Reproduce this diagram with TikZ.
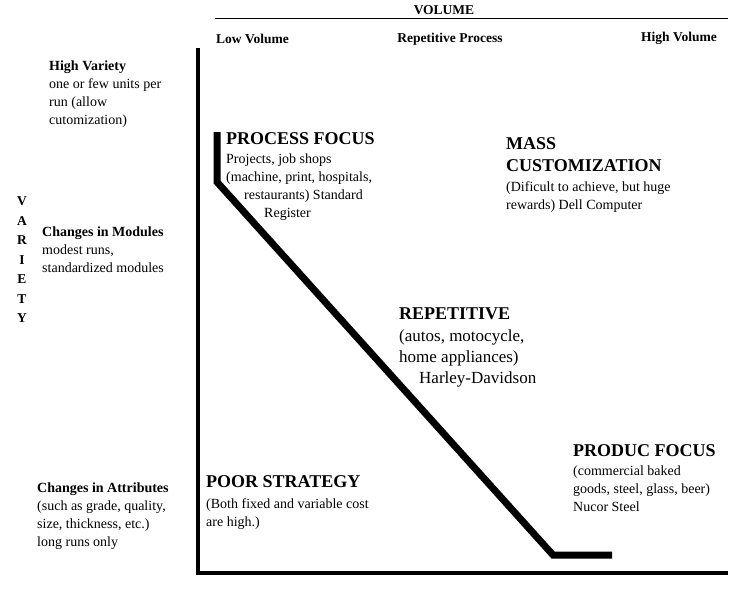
\documentclass[tikz,border=0pt]{standalone}
\usepackage{fontspec}
\setmainfont{Liberation Serif}
\usetikzlibrary{positioning}
\tikzset{
  txt/.style={anchor=north west,align=left,inner sep=0pt,font=\fontsize{14}{18}\selectfont},
  head/.style={anchor=north west,align=left,inner sep=0pt,font=\fontsize{18}{22}\selectfont\bfseries},
  lab/.style={inner sep=0pt,font=\fontsize{13.5}{16}\selectfont\bfseries}
}
\begin{document}
\begin{tikzpicture}[x=1pt,y=-1pt]
\useasboundingbox (0,0) rectangle (732,590);
% header
\draw (215,18)--(728,18);
\node[lab] (vol) at (444,10) {VOLUME};
\node[lab,anchor=west] (low) at (216,39) {Low Volume};
\node[lab] (rep) at (450,39) {Repetitive Process};
\node[lab,anchor=east] (high) at (717,38) {High Volume};
% axes
\draw[line width=4] (198,48)--(198,573)--(728,573);
% process line
\draw[line width=7] (217,132)--(217,182)--(553,555)--(612,555);
% variety
\node[lab,align=center,font=\fontsize{13.5}{19.5}\selectfont\bfseries] (var) at (22,260) {V\\A\\R\\I\\E\\T\\Y};
% left labels
\node[txt] (hv) at (49,61) {\textbf{High Variety}\\one or few units per\\run (allow\\cutomization)};
\node[txt] (cm) at (42,227) {\textbf{Changes in Modules}\\modest runs,\\standardized modules};
\node[txt] (ca) at (37,483) {\textbf{Changes in Attributes}\\(such as grade, quality,\\size, thickness, etc.)\\long runs only};
% quadrants
\node[head] (pf) at (226,132) {PROCESS FOCUS};
\node[txt] (pft) at (226,154) {Projects, job shops\\(machine, print, hospitals,\\\hspace*{18pt}restaurants) Standard\\\hspace*{38pt}Register};
\node[head] (mc) at (506,137) {MASS\\CUSTOMIZATION};
\node[txt] (mct) at (506,181) {(Dificult to achieve, but huge\\rewards) Dell Computer};
\node[head] (rp) at (399,308) {REPETITIVE};
\node[txt,font=\fontsize{17}{21}\selectfont] (rpt) at (399,329) {(autos, motocycle,\\home appliances)\\\hspace*{20pt}Harley-Davidson};
\node[head] (pr) at (573,444) {PRODUC FOCUS};
\node[txt] (prt) at (573,466) {(commercial baked\\goods, steel, glass, beer)\\Nucor Steel};
\node[head] (ps) at (206,475) {POOR STRATEGY};
\node[txt] (pst) at (206,498) {(Both fixed and variable cost\\are high.)};
\end{tikzpicture}
\end{document}
